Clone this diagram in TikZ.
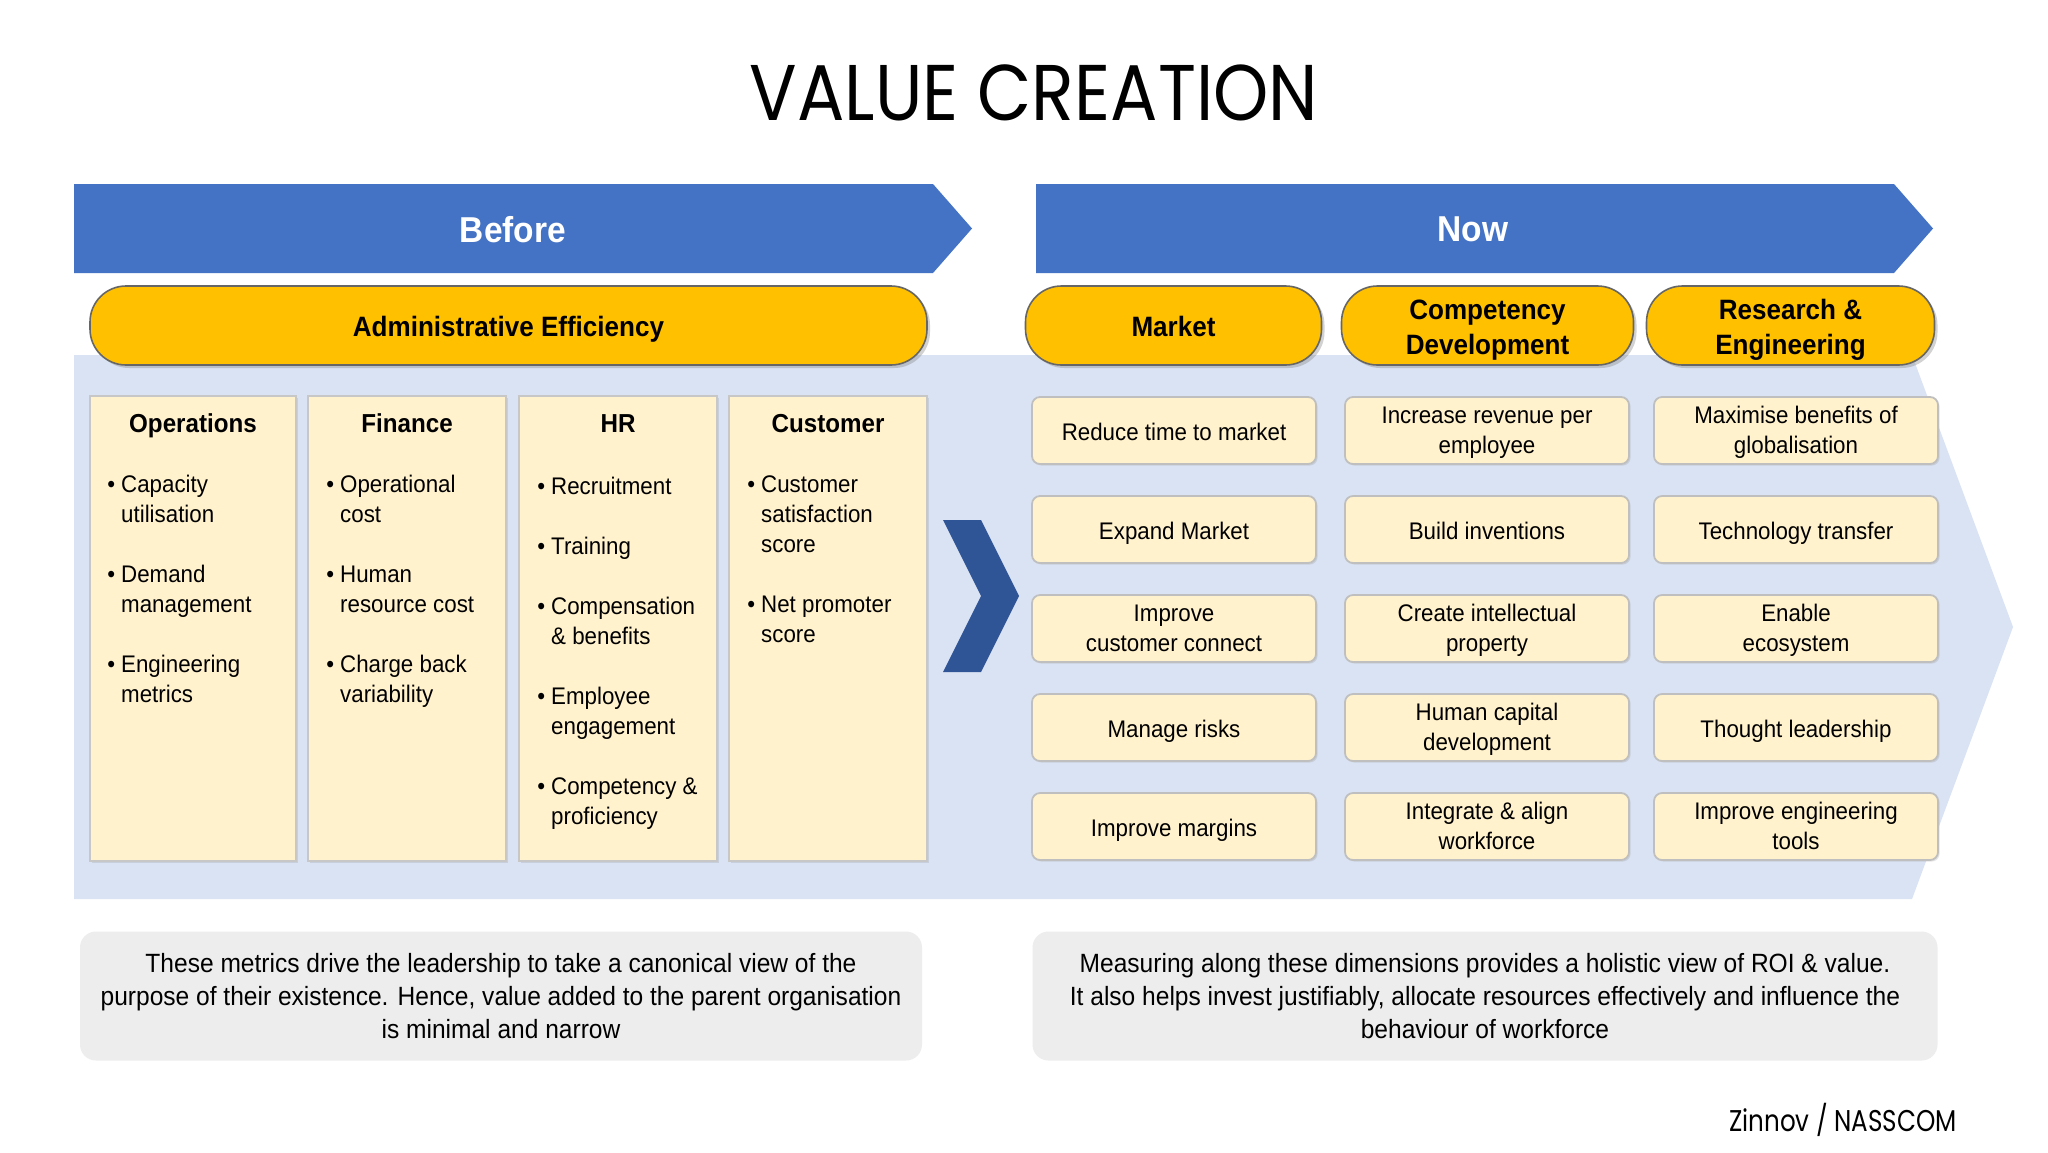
\documentclass[tikz,border=0pt]{standalone}
\usepackage{fontspec}
\setmainfont{Liberation Sans}[FakeStretch=0.93]
\newfontfamily\policetitre{Poppins}[FakeStretch=0.89]
\newfontfamily\policesource{Poppins}[FakeStretch=0.82]
\usetikzlibrary{shadows}
\definecolor{bleu}{HTML}{4472C4}
\definecolor{bleufonce}{HTML}{2F5597}
\definecolor{bleuclair}{HTML}{DAE3F3}
\definecolor{jaune}{HTML}{FFC000}
\definecolor{jaunepale}{HTML}{FFF2CC}
\definecolor{grisnote}{HTML}{EDEDED}
\newcommand\hcase{\rule{0pt}{11pt}}
\newcommand\hpil{\rule{0pt}{14.3pt}}
\tikzset{
  titre/.style={anchor=base, inner sep=0pt, font=\policetitre\fontsize{39.5}{44}\selectfont},
  txtbandeau/.style={text=white, inner sep=0pt, font=\fontsize{18}{20}\selectfont\bfseries},
  pilule/.style={fill=jaune, draw=black!60, line width=0.8pt, rounded corners=18pt,
    minimum height=39.5pt, inner sep=0pt, align=center,
    font=\fontsize{14}{17.5}\selectfont\bfseries,
    execute at begin node={\rule[-3.3pt]{0pt}{17.3pt}},
    drop shadow={shadow xshift=1.5pt, shadow yshift=-1.5pt, opacity=0.35}},
  colonne/.style={fill=jaunepale, draw=black!22, line width=1.2pt, minimum height=232.5pt,
    inner sep=0pt, drop shadow={shadow xshift=1pt, shadow yshift=-1pt, opacity=0.2}},
  titrecol/.style={anchor=base, inner sep=0pt, font=\fontsize{13}{15}\selectfont\bfseries},
  liste/.style={anchor=base west, inner sep=0pt, font=\fontsize{12}{15}\selectfont},
  case/.style={fill=jaunepale, draw=black!25, line width=0.9pt, rounded corners=4pt,
    minimum width=142pt, minimum height=33.5pt, inner sep=0pt, align=center,
    font=\fontsize{12}{15}\selectfont,
    execute at begin node={\rule[-2.8pt]{0pt}{15.2pt}},
    drop shadow={shadow xshift=0.8pt, shadow yshift=-0.8pt, opacity=0.2}},
  note/.style={fill=grisnote, rounded corners=8pt, minimum height=64.5pt, inner sep=0pt,
    align=center, font=\fontsize{13.2}{16.5}\selectfont},
  source/.style={anchor=base, inner sep=0pt, font=\policesource\fontsize{15}{18}\selectfont}
}
\begin{document}
\begin{tikzpicture}[x=0.5pt, y=-0.5pt]
	\useasboundingbox[fill=white] (0,0) rectangle (2048,1152);
	\node[titre] (titre) at (1034,120) {VALUE CREATION};
	%fond
	\fill[bleuclair] (74,355) -- (1912,355) -- (2013,627) -- (1912,899) -- (74,899) -- cycle;
	%bandeaux
	\fill[bleu] (74,184) -- (933,184) -- (972,228.5) -- (933,273) -- (74,273) -- cycle;
	\fill[bleu] (1036,184) -- (1894,184) -- (1933,228.5) -- (1894,273) -- (1036,273) -- cycle;
	\node[txtbandeau] (avant) at (513,229.5) {Before};
	\node[txtbandeau] (maintenant) at (1473,229.5) {Now};
	\node[pilule, minimum width=418.5pt] (admin) at (508.5,325.5) {Administrative Efficiency};
	\node[pilule, minimum width=148pt] (marche) at (1173.5,325.5) {Market};
	\node[pilule, minimum width=146pt] (compet) at (1487.5,325.5) {\hpil Competency\\Development};
	\node[pilule, minimum width=144pt] (recherche) at (1790.5,325.5) {\hpil Research \&\\Engineering};
	%avant
	\node[colonne, minimum width=103pt] (ops) at (193,628.5) {};
	\node[colonne, minimum width=99pt] (fin) at (407,628.5) {};
	\node[colonne, minimum width=99pt] (rh) at (618,628.5) {};
	\node[colonne, minimum width=99pt] (client) at (828,628.5) {};
	\node[titrecol] (t-ops) at (193,432) {Operations};
	\node[titrecol] (t-fin) at (407,432) {Finance};
	\node[titrecol] (t-rh) at (618,432) {HR};
	\node[titrecol] (t-client) at (828,432) {Customer};
	\node[liste] (l-ops) at (107,492) {\begin{tabular}[t]{@{}l@{\hspace{3pt}}l@{}}
		\textbullet & Capacity\\ & utilisation\\[15pt]
		\textbullet & Demand\\ & management\\[15pt]
		\textbullet & Engineering\\ & metrics
	\end{tabular}};
	\node[liste] (l-fin) at (326,492) {\begin{tabular}[t]{@{}l@{\hspace{3pt}}l@{}}
		\textbullet & Operational\\ & cost\\[15pt]
		\textbullet & Human\\ & resource cost\\[15pt]
		\textbullet & Charge back\\ & variability
	\end{tabular}};
	\node[liste] (l-rh) at (537,494) {\begin{tabular}[t]{@{}l@{\hspace{3pt}}l@{}}
		\textbullet & Recruitment\\[15pt]
		\textbullet & Training\\[15pt]
		\textbullet & Compensation\\ & \& benefits\\[15pt]
		\textbullet & Employee\\ & engagement\\[15pt]
		\textbullet & Competency \&\\ & proficiency
	\end{tabular}};
	\node[liste] (l-client) at (747,492) {\begin{tabular}[t]{@{}l@{\hspace{3pt}}l@{}}
		\textbullet & Customer\\ & satisfaction\\ & score\\[15pt]
		\textbullet & Net promoter\\ & score
	\end{tabular}};
	%chevron
	\fill[bleufonce] (943,520) -- (981,520) -- (1019,596) -- (981,672) -- (943,672) -- (981,596) -- cycle;
	%maintenant
	\node[case] (m1) at (1174,430.5) {Reduce time to market};
	\node[case] (m2) at (1174,529.5) {Expand Market};
	\node[case] (m3) at (1174,628.5) {\hcase Improve\\customer connect};
	\node[case] (m4) at (1174,727.5) {Manage risks};
	\node[case] (m5) at (1174,826.5) {Improve margins};
	\node[case] (c1) at (1487,430.5) {\hcase Increase revenue per\\employee};
	\node[case] (c2) at (1487,529.5) {Build inventions};
	\node[case] (c3) at (1487,628.5) {\hcase Create intellectual\\property};
	\node[case] (c4) at (1487,727.5) {\hcase Human capital\\development};
	\node[case] (c5) at (1487,826.5) {\hcase Integrate \& align\\workforce};
	\node[case] (r1) at (1796,430.5) {\hcase Maximise benefits of\\globalisation};
	\node[case] (r2) at (1796,529.5) {Technology transfer};
	\node[case] (r3) at (1796,628.5) {\hcase Enable\\ecosystem};
	\node[case] (r4) at (1796,727.5) {Thought leadership};
	\node[case] (r5) at (1796,826.5) {\hcase Improve engineering\\tools};
	%notes
	\node[note, minimum width=421pt] (n-avant) at (501,996) {These metrics drive the leadership to take a canonical view of the\\purpose of their existence. Hence, value added to the parent organisation\\is minimal and narrow};
	\node[note, minimum width=452.5pt] (n-maint) at (1485,996) {Measuring along these dimensions provides a holistic view of ROI \& value.\\It also helps invest justifiably, allocate resources effectively and influence the\\behaviour of workforce};
	\node[source] (src) at (1843,1131) {Zinnov / NASSCOM};
\end{tikzpicture}
\end{document}
